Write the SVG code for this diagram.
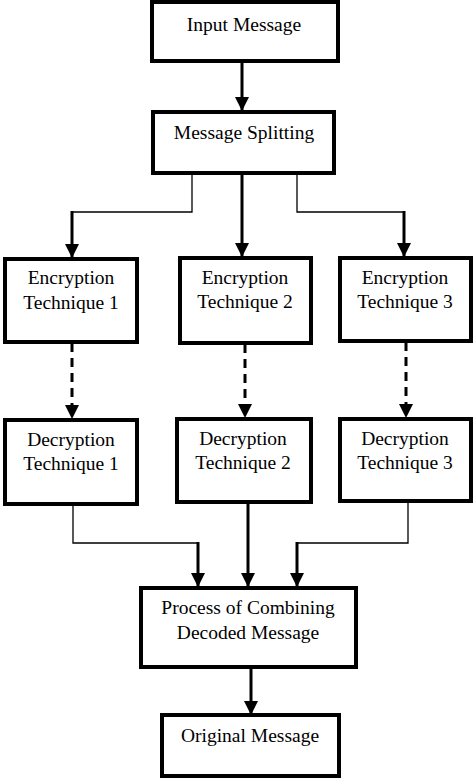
<svg xmlns="http://www.w3.org/2000/svg" width="474" height="778" viewBox="0 0 474 778">
<style>
.box{fill:#fff;stroke:#000;stroke-width:4}
.t{font-family:"Liberation Serif","Times New Roman",serif;font-size:19.5px;fill:#000;text-anchor:middle}
.thick{fill:none;stroke:#000;stroke-width:3}
.thin{fill:none;stroke:#000;stroke-width:1.3}
.dash{fill:none;stroke:#000;stroke-width:3;stroke-dasharray:9 6}
</style>
<defs>
<marker id="ah" markerUnits="userSpaceOnUse" markerWidth="14" markerHeight="14" refX="13" refY="7" orient="auto" viewBox="0 0 14 14">
<path d="M0,0 L14,7 L0,14 z" fill="#000"/>
</marker>
</defs>
<rect width="474" height="778" fill="#fff"/>
<g id="connectors">
<path class="thick" d="M242,62 V110" marker-end="url(#ah)"/>
<path class="thin" d="M192,174 V212 H72"/>
<path class="thick" d="M72,211 V257" marker-end="url(#ah)"/>
<path class="thick" d="M242,174 V256" marker-end="url(#ah)"/>
<path class="thin" d="M297,174 V212 H404"/>
<path class="thick" d="M404,211 V256" marker-end="url(#ah)"/>
<path class="dash" d="M72,343 V418" marker-end="url(#ah)"/>
<path class="dash" d="M245,344 V417" marker-end="url(#ah)"/>
<path class="dash" d="M406,342 V417" marker-end="url(#ah)"/>
<path class="thin" d="M73,505 V543 H198"/>
<path class="thick" d="M198,542 V586" marker-end="url(#ah)"/>
<path class="thick" d="M248,503 V586" marker-end="url(#ah)"/>
<path class="thin" d="M408,502 V543 H297"/>
<path class="thick" d="M297,542 V586" marker-end="url(#ah)"/>
<path class="thick" d="M251,667 V714" marker-end="url(#ah)"/>
</g>
<g id="input"><rect class="box" x="152" y="2" width="186" height="59"/><text class="t" x="244" y="31">Input Message</text></g>
<g id="split"><rect class="box" x="153" y="112" width="181" height="61"/><text class="t" x="244" y="139">Message Splitting</text></g>
<g id="enc1"><rect class="box" x="5" y="259" width="132" height="83"/><text class="t" x="71" y="284">Encryption</text><text class="t" x="71" y="309">Technique 1</text></g>
<g id="enc2"><rect class="box" x="180" y="258" width="131" height="85"/><text class="t" x="245" y="284">Encryption</text><text class="t" x="245" y="308">Technique 2</text></g>
<g id="enc3"><rect class="box" x="340" y="258" width="131" height="83"/><text class="t" x="405" y="284">Encryption</text><text class="t" x="405" y="308">Technique 3</text></g>
<g id="dec1"><rect class="box" x="5" y="420" width="132" height="84"/><text class="t" x="71" y="446">Decryption</text><text class="t" x="71" y="470">Technique 1</text></g>
<g id="dec2"><rect class="box" x="177" y="419" width="134" height="83"/><text class="t" x="243" y="445">Decryption</text><text class="t" x="243" y="469">Technique 2</text></g>
<g id="dec3"><rect class="box" x="340" y="419" width="131" height="82"/><text class="t" x="405" y="445">Decryption</text><text class="t" x="405" y="469">Technique 3</text></g>
<g id="combine"><rect class="box" x="141" y="588" width="215" height="79"/><text class="t" x="248" y="614">Process of Combining</text><text class="t" x="248" y="639">Decoded Message</text></g>
<g id="original"><rect class="box" x="162" y="715" width="177" height="61"/><text class="t" x="250" y="742">Original Message</text></g>
</svg>
